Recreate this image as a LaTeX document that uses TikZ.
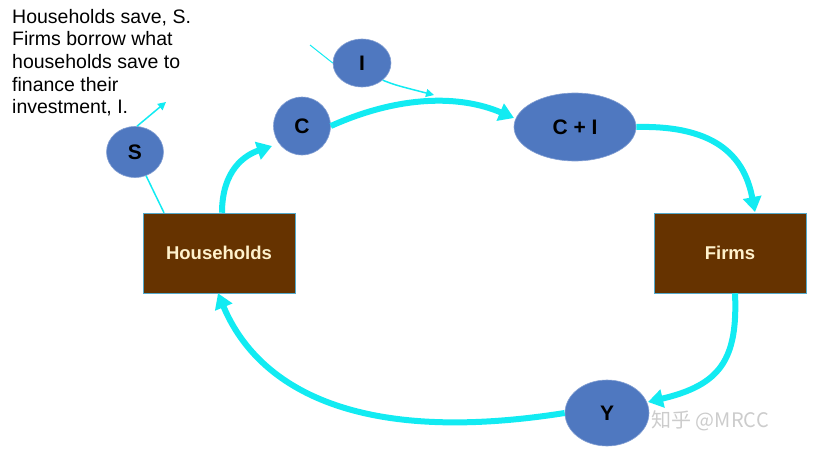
\documentclass[tikz,border=0pt]{standalone}
\usepackage{fontspec}
\setmainfont{Liberation Sans}
\newfontfamily\cjk{Noto Sans CJK SC}
\usetikzlibrary{arrows.meta,shapes.geometric}
\begin{document}
\begin{tikzpicture}[x=1pt,y=-1pt,
  blob/.style={ellipse,fill=bluefill,draw=bluefill!70!white,line width=0.6pt,inner sep=0pt,font=\bfseries\fontsize{21}{21}\selectfont},
  box/.style={rectangle,fill=brownfill,draw=cyan!60!gray,line width=0.5pt,minimum width=152pt,minimum height=80pt,text=cream,font=\bfseries\fontsize{18.5}{18.5}\selectfont},
  flow/.style={draw=flowc,line width=6pt,-{Triangle[length=15pt,width=18pt]}},
  thin/.style={draw=flowc,line width=1.5pt,-{Triangle[length=8pt,width=8pt]}}]
\definecolor{bluefill}{HTML}{4F78C0}
\definecolor{brownfill}{HTML}{663300}
\definecolor{cream}{HTML}{FFF2CC}
\definecolor{flowc}{HTML}{12EBF2}
\useasboundingbox (0,0) rectangle (817,455);
\node[anchor=north west,align=left,font=\fontsize{19.5}{22.6}\selectfont,inner sep=0pt] (txt) at (12,9) {Households save, S.\\Firms borrow what\\households save to\\finance their\\investment, I.};
\node[box] (hh) at (219,253) {Households};
\node[box] (firms) at (730,253) {Firms};
\node[blob,minimum width=57pt,minimum height=51pt] (S) at (135,152) {S};
\node[blob,minimum width=57pt,minimum height=58pt] (C) at (302,126) {C};
\node[blob,minimum width=58pt,minimum height=48pt] (I) at (362,63) {I};
\node[blob,minimum width=122pt,minimum height=68pt] (CI) at (575,127) {C + I};
\node[blob,minimum width=84pt,minimum height=66pt] (Y) at (607,413) {Y};
\coordinate (sEnd) at (166,102);
\coordinate (iEnd) at (434,95);
\coordinate (iIn) at (310,45);
\draw[flow] ([xshift=3pt]hh.north) .. controls (222,170) and (245,155) .. (272,146);
\draw[flow] (C.east) .. controls (400,95) and (460,95) .. (514,118);
\draw[flow] (CI.east) .. controls (720,125) and (745,160) .. (755,212);
\draw[flow] ([xshift=5pt]firms.south) .. controls (738,360) and (720,385) .. (648,402);
\draw[flow] (Y.west) .. controls (330,450) and (250,370) .. ([xshift=-1pt]hh.south);
\draw[thin] (S.north) ++(2,0) -- (sEnd);
\draw[draw=flowc,line width=1.5pt] ([xshift=-55pt]hh.north) -- (S.-65);
\draw[thin] (I.south east) .. controls (395,85) .. (iEnd);
\draw[draw=flowc,line width=1pt] (iIn) -- (I.west);
\node[text=gray!40,font=\cjk\fontsize{20}{20}\selectfont,anchor=west] (wm) at (648,421) {知乎 @MRCC};
\end{tikzpicture}
\end{document}
